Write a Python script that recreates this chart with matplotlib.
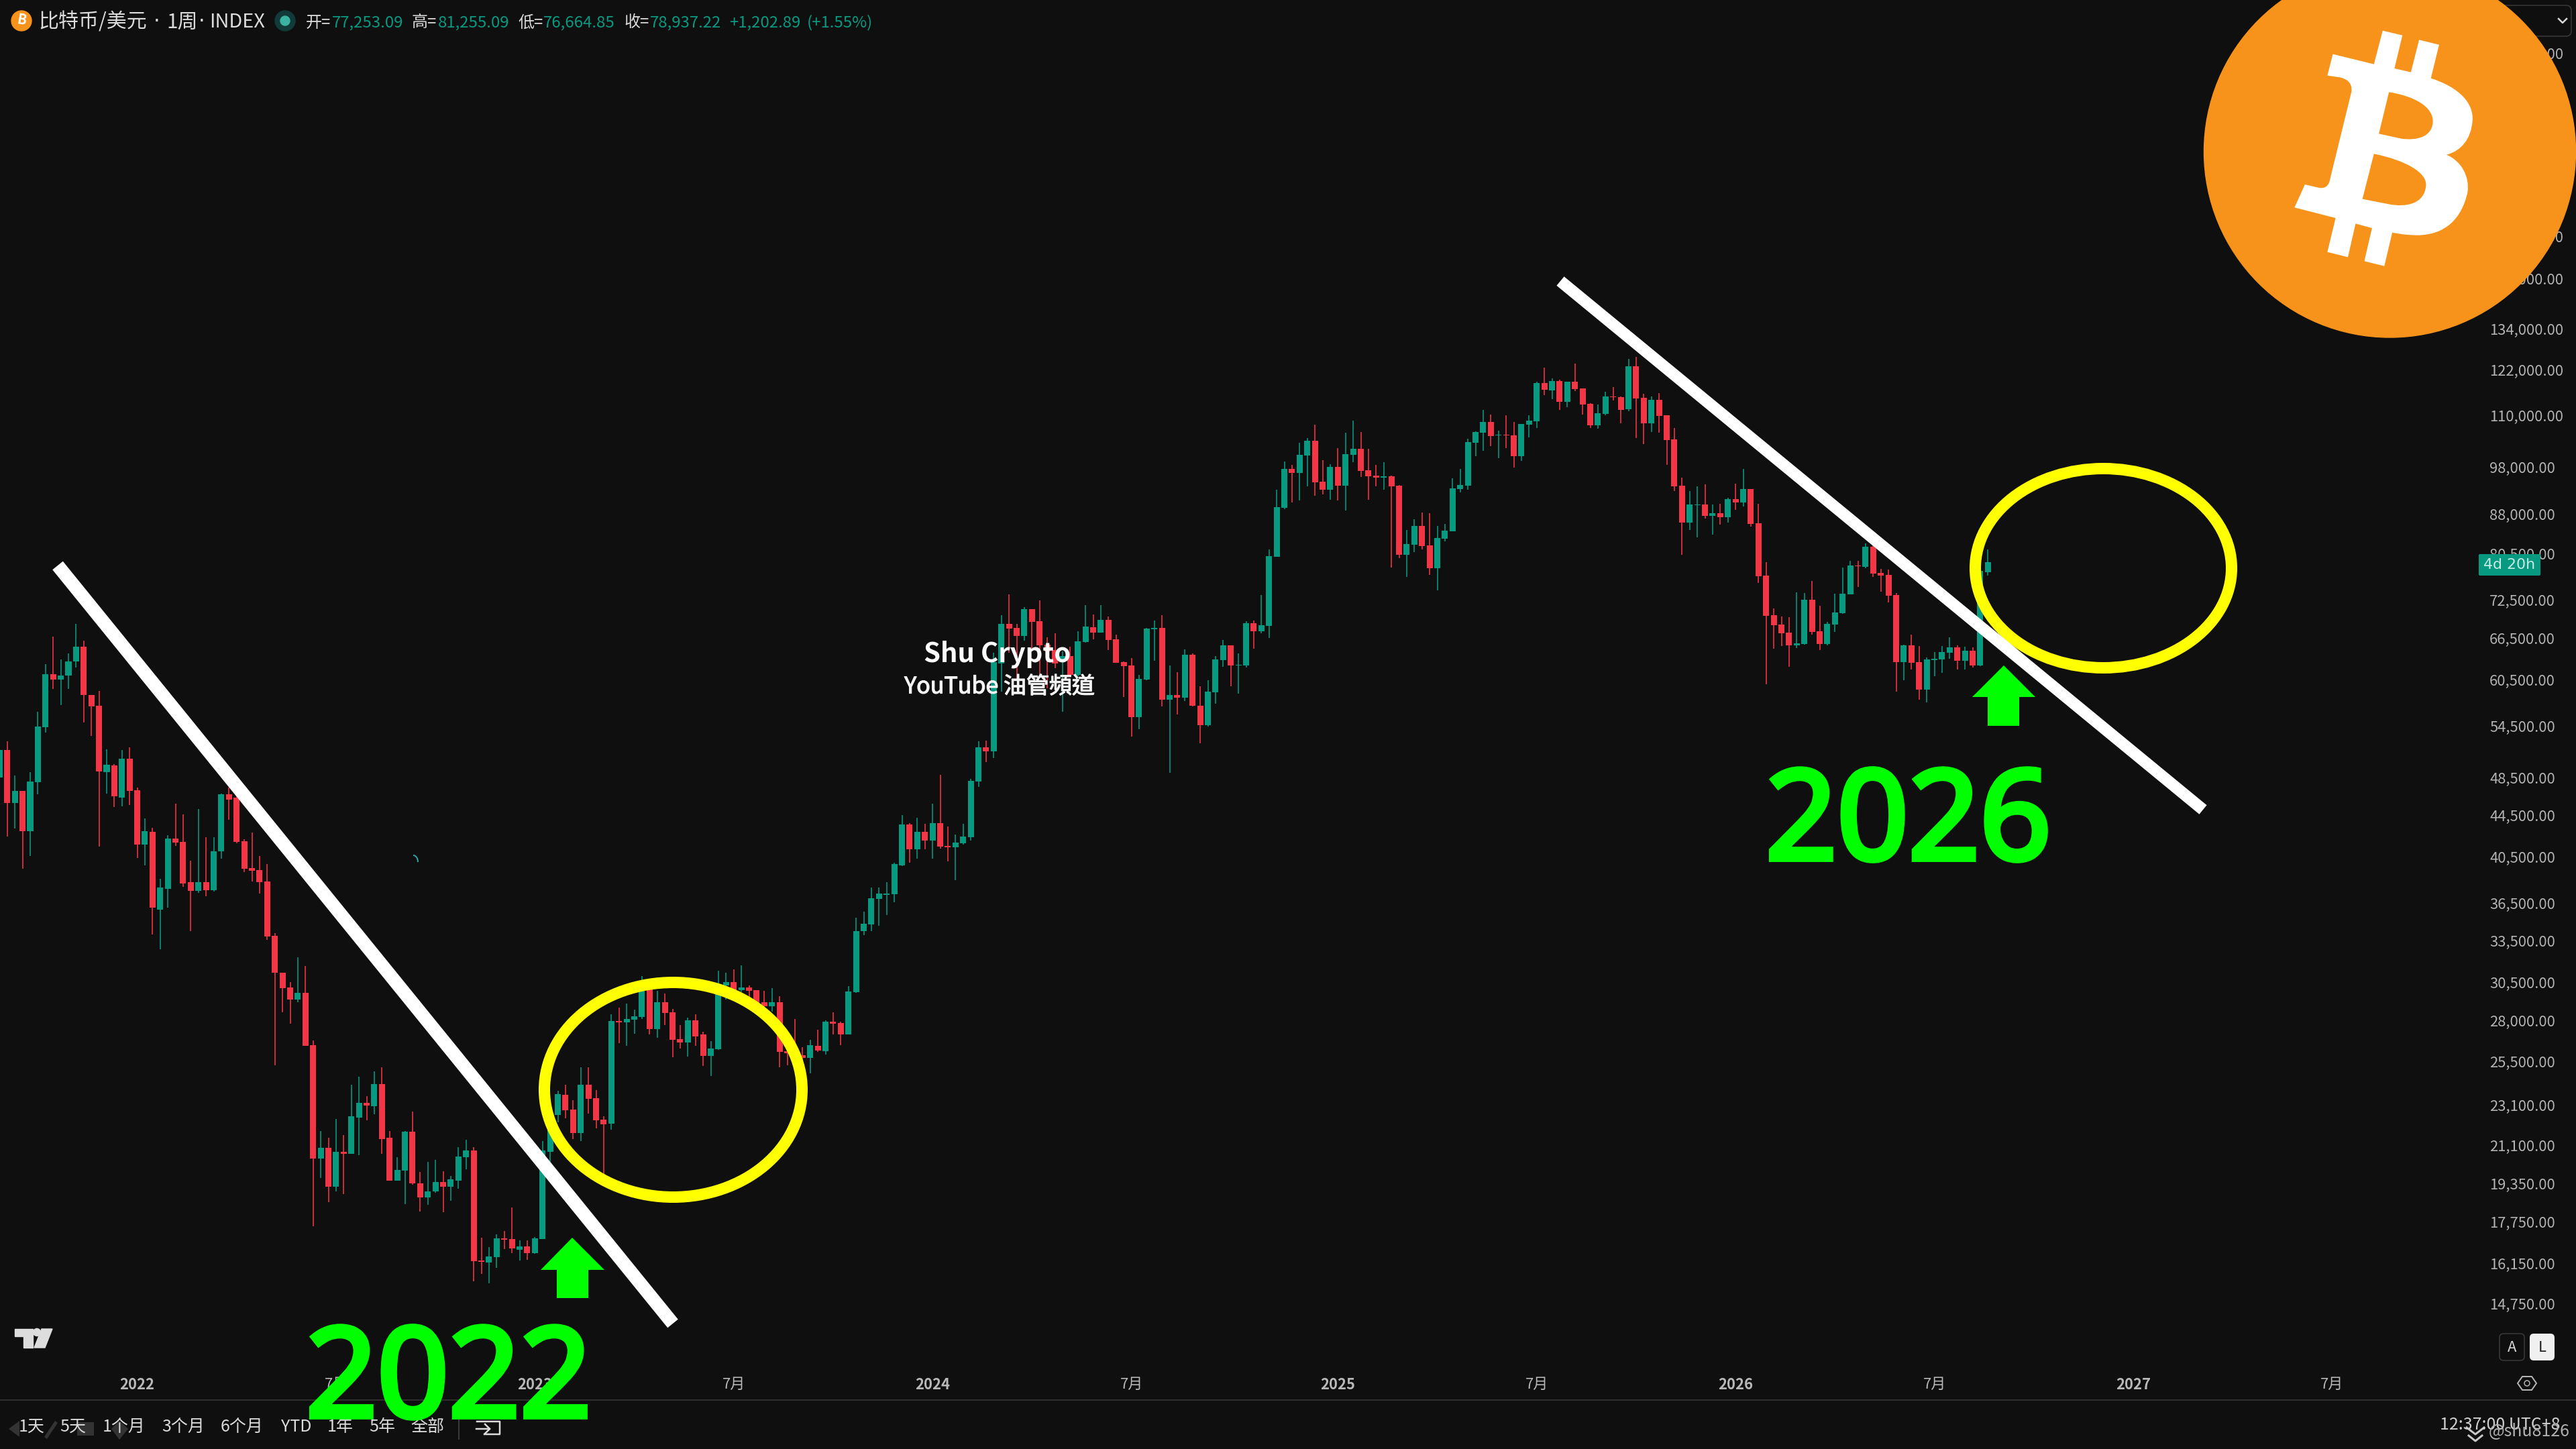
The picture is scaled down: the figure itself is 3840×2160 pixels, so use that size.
import numpy as np
import matplotlib
matplotlib.use('Agg')
import matplotlib.pyplot as plt
import matplotlib.patheffects as pe
from matplotlib.patches import Ellipse, Circle, Polygon, FancyBboxPatch, PathPatch, Arc
from matplotlib.path import Path
from matplotlib.ticker import NullLocator

plt.rcParams['font.family'] = ['Noto Sans CJK SC', 'DejaVu Sans']
plt.rcParams['axes.unicode_minus'] = False

# weekly candles
opens = [
    48520, 51620, 45820, 47060, 42970, 48010, 54400, 61280, 60570, 61090,
    63060, 65250, 58470, 57060, 49100, 49850, 46360, 50640, 47160, 41680,
    42880, 35980, 37720, 42250, 41950, 38270, 37550, 38270, 37590, 41030,
    46710, 46320, 41990, 39510, 39340, 38350, 33900, 31210, 30180, 29330,
    29800, 26460, 20470, 20970, 19220, 20790, 20700, 22470, 23220, 23050,
    24230, 21470, 19480, 19930, 21750, 19370, 18750, 19000, 19410, 19200,
    19490, 20550, 20860, 16260, 16190, 16370, 17080, 17060, 16660, 16790,
    16540, 17060, 20800, 22590, 23650, 22880, 21690, 24190, 23480, 22370,
    22170, 27960, 27860, 28050, 28220, 30250, 27450, 29160, 28500, 26830,
    26640, 28000, 27100, 25830, 26230, 30320, 30550, 30000, 30150, 29980,
    29160, 28900, 29160, 26120, 26040, 25880, 25700, 26430, 26120, 27910,
    27830, 27100, 29840, 34240, 34810, 36860, 37200, 37260, 39790, 43630,
    41210, 42870, 42080, 43770, 41560, 41400, 41820, 42400, 48110, 51980,
    51500, 62840, 68690, 68050, 66850, 71010, 69120, 65520, 64710, 63090,
    63870, 61210, 65930, 68160, 67370, 69330, 66340, 62990, 62560, 55640,
    60560, 67900, 68050, 57880, 58470, 58150, 64070, 57090, 54630, 58840,
    63280, 65420, 62560, 62560, 68800, 67580, 68380, 79920, 89320, 97540,
    96650, 100550, 103980, 94770, 93050, 97970, 93900, 100700, 102090, 97240,
    96080, 95650, 95930, 93900, 80280, 82150, 85710, 82020, 77890, 83280,
    84680, 93190, 93900, 103490, 105880, 108490, 105240, 105400, 105240, 100400,
    107830, 108630, 118480, 116530, 119020, 113570, 118830, 117050, 113030, 107660,
    110480, 114940, 114770, 111670, 123140, 114600, 108170, 114060, 110150, 104290,
    93900, 86400, 89860, 89990, 87710, 88230, 87450, 91090, 90410, 93190,
    86230, 76620, 70060, 68580, 67350, 65430, 65640, 72580, 67570, 65640,
    68580, 70390, 73460, 78400, 78140, 81820, 77110, 76740, 73340, 63020,
    65430, 63020, 59200, 63290, 63390, 64340, 65120, 63190, 64650, 62520,
    77253.09,
]
highs = [
    52620, 52670, 48730, 47060, 49100, 56330, 62700, 66730, 63400, 64290,
    68680, 66150, 58470, 59010, 51730, 50010, 51620, 51950, 47400, 44240,
    43290, 38600, 42570, 45730, 44660, 40190, 45180, 42380, 42380, 46810,
    47450, 46470, 42210, 42840, 40620, 39900, 34120, 31210, 30540, 32310,
    31640, 26750, 21800, 21470, 22400, 21580, 24210, 24630, 23600, 24950,
    25160, 21800, 20550, 21800, 22760, 19860, 20330, 20420, 19900, 19680,
    21020, 21380, 21020, 17120, 16750, 17260, 17390, 18320, 17010, 17010,
    17150, 21300, 22800, 23880, 24190, 23370, 25170, 25170, 23900, 22530,
    28390, 28810, 29070, 28690, 30950, 30430, 29930, 29750, 28720, 27710,
    28170, 28390, 27280, 26720, 31320, 31190, 31410, 31700, 30300, 29980,
    29950, 30100, 29590, 27000, 28080, 26350, 26800, 27420, 28010, 28500,
    27910, 30250, 35300, 35830, 37820, 37820, 38270, 40010, 44590, 43730,
    44280, 43700, 45740, 48810, 43430, 42660, 43700, 48370, 52670, 52750,
    64320, 70060, 73460, 68690, 71400, 71010, 72450, 66650, 67270, 64560,
    65280, 67530, 71680, 70190, 71680, 69810, 67020, 63090, 63570, 61210,
    68110, 69230, 70060, 62560, 61590, 64860, 64270, 59660, 60510, 63870,
    66240, 65420, 64270, 69070, 69230, 73340, 81260, 93050, 99180, 98430,
    103490, 104600, 107770, 99490, 98560, 102250, 105880, 108800, 106040, 102090,
    98430, 99040, 96080, 94110, 84950, 87120, 88370, 88230, 85710, 86100,
    95490, 97540, 104440, 106200, 111500, 110320, 106360, 110150, 108490, 107990,
    110150, 118830, 122700, 119740, 119380, 118830, 123840, 117050, 113200, 112860,
    116160, 117360, 114940, 125150, 125720, 115640, 114940, 115820, 110150, 107010,
    95650, 92770, 93760, 94200, 89990, 90130, 91370, 94340, 97540, 93190,
    90130, 78980, 71150, 69830, 69760, 73770, 73650, 75720, 71570, 69020,
    73540, 78060, 79240, 79240, 82430, 82080, 77810, 77680, 73650, 65530,
    67030, 65340, 63690, 64440, 65340, 66640, 65430, 65230, 65120, 77650,
    81255.09,
]
lows = [
    46960, 42430, 43210, 39470, 40620, 46710, 53690, 59260, 57180, 59260,
    62280, 54970, 53300, 41500, 46810, 45380, 45470, 45570, 40450, 39770,
    34010, 32900, 36130, 41550, 37870, 34240, 37350, 37070, 37470, 40360,
    44100, 41790, 39140, 38350, 37310, 33620, 25290, 28530, 27800, 29170,
    26440, 17560, 19600, 18560, 19000, 18880, 20700, 20640, 22330, 22620,
    20700, 19480, 19480, 18480, 19290, 18150, 18450, 18940, 18130, 18620,
    19120, 19990, 15510, 15780, 15450, 15990, 16680, 16520, 16260, 16290,
    16500, 17060, 20330, 22240, 22430, 21390, 21300, 22670, 21920, 19750,
    21860, 26590, 26430, 27160, 28100, 27100, 26920, 27710, 25750, 26270,
    25800, 26430, 25240, 24670, 26200, 29370, 29800, 29860, 29530, 29000,
    28640, 28540, 25170, 25290, 25720, 25640, 24820, 26070, 25920, 27130,
    26480, 27100, 29800, 33940, 34280, 34690, 35540, 36600, 39730, 40010,
    40380, 41210, 40380, 41330, 40130, 38430, 41690, 42080, 47520, 50240,
    50710, 58930, 64320, 60690, 66130, 64810, 60930, 59390, 62160, 56300,
    61210, 61030, 65830, 66340, 67370, 64760, 62940, 58240, 53240, 54110,
    60460, 63180, 57000, 49050, 56000, 57700, 57000, 52430, 54460, 57360,
    62360, 59660, 58650, 62260, 64960, 67270, 66540, 79920, 89050, 90410,
    90820, 93760, 91800, 92080, 90960, 90820, 88770, 99040, 95800, 90960,
    93760, 93050, 78000, 79680, 76370, 80780, 81280, 76720, 74080, 82780,
    84680, 92490, 93050, 100400, 101630, 102710, 99940, 102250, 97830, 99340,
    104760, 107010, 115300, 114220, 111510, 112200, 116330, 110320, 107010, 106860,
    110150, 113910, 108170, 111180, 104600, 103170, 106040, 105880, 98430, 92770,
    80280, 84950, 83540, 87190, 84040, 85980, 86400, 88890, 89590, 85590,
    75330, 59930, 64890, 65340, 62350, 65010, 65530, 67030, 64780, 65430,
    67460, 70280, 73460, 74680, 77930, 76420, 73890, 72110, 58950, 60480,
    61950, 57900, 57530, 61020, 61480, 63490, 61950, 61950, 62250, 62450,
    76664.85,
]
closes = [
    51620, 45820, 47060, 42970, 48060, 54440, 61280, 60570, 61090, 63060,
    65250, 58470, 57000, 49200, 49950, 46510, 50640, 47060, 41680, 42970,
    36130, 37830, 42250, 41900, 38190, 37550, 38270, 37590, 41080, 46710,
    46170, 41950, 39470, 39300, 38270, 33870, 31210, 30120, 29330, 29800,
    26440, 20470, 20970, 19220, 20790, 20700, 22520, 23220, 23100, 24230,
    21400, 19480, 19970, 21750, 19350, 18750, 19020, 19410, 19200, 19530,
    20580, 20860, 16240, 16210, 16400, 17080, 17040, 16700, 16790, 16540,
    17080, 20840, 22590, 23690, 22840, 21690, 24190, 23440, 22330, 22130,
    27960, 27860, 28080, 28250, 30070, 27450, 29160, 28470, 26800, 26640,
    28000, 27000, 25830, 26270, 29890, 30550, 29890, 30150, 29950, 29080,
    28910, 29160, 26070, 26000, 25880, 25700, 26480, 26150, 27910, 27780,
    27100, 29890, 34280, 34860, 36900, 37280, 37320, 39860, 43630, 41210,
    42930, 42080, 43770, 41490, 41400, 41880, 42460, 48180, 51980, 51500,
    62990, 68690, 67950, 66850, 71010, 69010, 65420, 64560, 62840, 63820,
    61210, 66030, 68270, 67370, 69330, 66240, 62940, 62460, 55640, 60650,
    67950, 68050, 57880, 58470, 58150, 64070, 57090, 54630, 58930, 63380,
    65420, 62560, 62650, 68800, 67580, 68480, 80080, 89450, 97540, 96650,
    100700, 103980, 94620, 93050, 97970, 93900, 100850, 102090, 97100, 95930,
    95650, 95930, 93760, 80280, 82280, 85710, 81900, 77890, 83410, 84810,
    93330, 94040, 103640, 106040, 108490, 105080, 105400, 105240, 100400, 107990,
    108800, 118480, 116700, 119020, 113570, 118830, 116870, 112860, 107660, 110650,
    114940, 114770, 111500, 123140, 114430, 108170, 114060, 109990, 104130, 93760,
    86400, 89990, 89990, 87710, 88230, 87450, 91090, 90410, 93190, 86100,
    76500, 69950, 68470, 67240, 65430, 65710, 72580, 67460, 65640, 68690,
    70500, 73540, 78400, 78270, 81820, 76990, 76660, 73230, 63020, 65430,
    62920, 59200, 63390, 63490, 64440, 65120, 63190, 64650, 62520, 77450,
    78937.22,
]

price_ticks = [250000, 165000, 150000, 134000, 122000, 110000, 98000, 88000, 80500, 72500,
               66500, 60500, 54500, 48500, 44500, 40500, 36500, 33500, 30500, 28000,
               25500, 23100, 21100, 19350, 17750, 16150, 14750]
week_ticks = [18, 44, 70, 96, 122, 148, 175, 201, 227, 253, 279, 305]
week_labels = ['2022', '7月', '2023', '7月', '2024', '7月', '2025', '7月', '2026', '7月', '2027', '7月']
range_buttons = ['1天', '5天', '1个月', '3个月', '6个月', 'YTD', '1年', '5年', '全部']
range_button_x = [28, 89, 153, 241, 329, 419, 488, 550, 612]

BG = '#0f0f0f'
UP = '#089981'
DOWN = '#f23645'
LIME = '#00ff00'
PX = 0.72  # one pixel in points at dpi 100

fig = plt.figure(figsize=(38.4, 21.6), dpi=100, facecolor=BG)
ax = fig.add_axes([0, 0, 1, 1], facecolor=BG)

idx = np.arange(len(opens))
o, h, l, c = map(np.array, (opens, highs, lows, closes))
colors = np.where(c >= o, UP, DOWN)

ax.set_yscale('log')
ax.vlines(idx, l, h, colors=colors, linewidth=1.6 * PX, zorder=2)
ax.bar(idx, np.abs(c - o), bottom=np.minimum(o, c), width=0.79, color=colors, linewidth=0, zorder=3)

ax.set_xlim(0.0526, 336.9)
ax.set_ylim(10610, 282000)
for s in ax.spines.values():
    s.set_visible(False)

ax.yaxis.tick_right()
ax.set_yticks(price_ticks)
ax.set_yticklabels([f'{p:,.2f}' for p in price_ticks])
ax.yaxis.set_minor_locator(NullLocator())
ax.tick_params(axis='y', length=0, pad=-129 * PX, labelsize=22 * PX, labelcolor='#b4b4b4')

ax.set_xticks(week_ticks)
ax.set_xticklabels(week_labels)
ax.tick_params(axis='x', length=0, pad=-107 * PX, labelsize=22 * PX, labelcolor='#b8b8b8')
for lab in ax.get_xticklabels():
    if lab.get_text().startswith('20'):
        lab.set_fontweight('bold')

# everything drawn on top of the chart, in screen pixels
ov = fig.add_axes([0, 0, 1, 1])
ov.set_xlim(0, 3840)
ov.set_ylim(2160, 0)
ov.axis('off')
ov.patch.set_alpha(0)


def ui(x, y, s, size=24, color='#dbdbdb', ha='left', va='center', **kw):
    return ov.text(x, y, s, fontsize=size * PX, color=color, ha=ha, va=va, **kw)


# legend row
ov.add_patch(Circle((32, 31), 15, color='#f7931a', zorder=5))
ui(32, 30, 'B', size=20, color='white', ha='center', weight='bold', rotation=-10, zorder=6)
ui(57, 33, '比特币/美元', size=30)
ui(234, 33, '·', size=30, ha='center', family=['DejaVu Sans'])
ui(248, 33, '1周', size=30)
ui(301, 33, '·', size=30, ha='center', family=['DejaVu Sans'])
ui(312, 33, 'INDEX', size=29)
ov.add_patch(Circle((425, 31), 15, color='#113a38', zorder=5))
ov.add_patch(Circle((425, 31), 7, color='#3bb3a0', zorder=6))
for x, s in [(456, '开='), (614, '高='), (772, '低='), (930, '收=')]:
    ui(x, 34, s, size=24)
for x, s in [(495, '77,253.09'), (653, '81,255.09'), (810, '76,664.85'), (969, '78,937.22'),
             (1087, '+1,202.89'), (1203, '(+1.55%)')]:
    ui(x, 34, s, size=24, color=UP)

# bottom strip
ov.plot([0, 3840], [2087, 2087], color='#2e2e2e', lw=2 * PX)
for pts in [[(13, 2130), (29, 2118), (29, 2142)], [(66, 2142), (82, 2118), (86, 2121), (70, 2145)],
            [(115, 2120), (140, 2120), (140, 2140), (115, 2140)], [(166, 2130), (178, 2118), (191, 2130), (178, 2146)]]:
    ov.add_patch(Polygon(pts, color='#333333', lw=0))
for x, s in zip(range_button_x, range_buttons):
    ui(x, 2127, s, size=25, zorder=4)
ov.plot([684, 684], [2115, 2145], color='#3a3a3a', lw=2 * PX)
ov.plot([711, 745, 745, 722], [2119, 2119, 2138, 2138], color='#dbdbdb', lw=2.5 * PX)
ov.plot([710, 730], [2130, 2130], color='#dbdbdb', lw=2.5 * PX)
ov.plot([723, 730, 723], [2123, 2130, 2137], color='#dbdbdb', lw=2.5 * PX)

# tradingview mark
ov.add_patch(Polygon([(22, 1981), (49, 1981), (49, 2009), (35, 2009), (35, 1992), (22, 1992)], color='#dddddd'))
ov.add_patch(Circle((55, 1986), 5.5, color='#dddddd'))
ov.add_patch(Polygon([(62, 1981), (78, 1981), (67, 2009), (51, 2009)], color='#dddddd'))

# small stray arc
ov.add_patch(Arc((616, 1285), 14, 20, theta1=-90, theta2=0, color='#2aa7a0', lw=2 * PX))

# A / L buttons, clock
ov.add_patch(FancyBboxPatch((3730, 1992), 29, 32, boxstyle='round,pad=4,rounding_size=6',
                            fc='none', ec='#3a3a3a', lw=1.5 * PX))
ov.add_patch(FancyBboxPatch((3775, 1992), 29, 32, boxstyle='round,pad=4,rounding_size=6',
                            fc='#f0f0f0', ec='none'))
ui(3745, 2009, 'A', size=22, color='#d8d8d8', ha='center')
ui(3790, 2009, 'L', size=22, color='#1a1a1a', ha='center')
ov.add_patch(Polygon([(3753, 2062), (3760, 2052), (3774, 2052), (3781, 2062), (3774, 2072), (3760, 2072)],
                     fc='none', ec='#b4b4b4', lw=2 * PX))
ov.add_patch(Circle((3767, 2062), 4, fc='none', ec='#b4b4b4', lw=1.5 * PX))
ui(3637, 2124, '12:37:00 UTC+8', size=25, color='#d0d0d0')
ui(3710, 2134, '@shu8126', size=25, color='#b0b0b0')
ov.plot([3677, 3690, 3703], [2128, 2138, 2128], color='#c8c8c8', lw=3 * PX)
ov.plot([3680, 3690, 3700], [2140, 2148, 2140], color='#c8c8c8', lw=3 * PX)

# watermark
ui(1487, 975, 'Shu Crypto', size=40, color='white', ha='center', weight='bold',
   family=['Noto Sans CJK TC', 'DejaVu Sans'], zorder=8)
ui(1490, 1024, 'YouTube 油管頻道', size=34, color='#f4f4f4', ha='center',
   family=['Noto Sans CJK TC', 'DejaVu Sans'], zorder=8,
   path_effects=[pe.withStroke(linewidth=1.2 * PX, foreground='#f4f4f4')])

# yellow rings, white trendlines
ov.add_patch(Ellipse((1003.5, 1624.5), 384, 320, fc='none', ec='#ffff00', lw=17 * PX, zorder=9))
ov.add_patch(Ellipse((3135.5, 847), 382, 297, fc='none', ec='#ffff00', lw=17 * PX, zorder=9))
ov.plot([86, 1003], [843, 1973], color='white', lw=20 * PX, solid_capstyle='butt', zorder=10)
ov.plot([2326, 3284], [419, 1207], color='white', lw=17.5 * PX, solid_capstyle='butt', zorder=10)

# green arrows and years
ov.add_patch(Polygon([(853, 1845), (901, 1893), (877, 1893), (877, 1935), (830, 1935), (830, 1893), (806, 1893)],
                     color=LIME, lw=0, zorder=11))
ov.add_patch(Polygon([(2987, 992), (3034, 1039), (3010, 1039), (3010, 1082), (2963, 1082), (2963, 1039), (2940, 1039)],
                     color=LIME, lw=0, zorder=11))
year_stroke = [pe.withStroke(linewidth=8 * PX, foreground=LIME, joinstyle='miter')]
ov.text(456, 2112, '2022', fontsize=186 * PX, color=LIME, family='Noto Sans',
        ha='left', va='baseline', zorder=11, path_effects=year_stroke)
ov.text(2632, 1281, '2026', fontsize=186 * PX, color=LIME, family='Noto Sans',
        ha='left', va='baseline', zorder=11, path_effects=year_stroke)

# interval box hiding under the logo, then the countdown tag
ov.add_patch(FancyBboxPatch((3606, 14), 221, 34, boxstyle='round,pad=6,rounding_size=8',
                            fc='none', ec='#3a3a3a', lw=1.5 * PX, zorder=4))
ov.plot([3814, 3820, 3826], [28, 34, 28], color='#d8d8d8', lw=2.5 * PX, zorder=4)
ov.add_patch(FancyBboxPatch((3697, 828), 88, 28, boxstyle='round,pad=2,rounding_size=2',
                            fc=UP, ec='none', zorder=6))
ui(3741, 842, '4d 20h', size=22, color='#c9ece5', ha='center', zorder=7,
   family=['DejaVu Sans'])

# bitcoin logo
ov.add_patch(Circle((3562.5, 226), 277, color='#f7931a', zorder=12))
M, L, C4 = Path.MOVETO, Path.LINETO, Path.CURVE4


def logo_patch(segments, color):
    verts, codes = [], []
    for code, pts in segments:
        for p in pts:
            verts.append((3200 + p[0] / 2.45, p[1] / 3))
            codes.append(code)
    verts.append(verts[0])
    codes.append(Path.CLOSEPOLY)
    return PathPatch(Path(verts, codes), fc=color, ec='none', zorder=13)


outer = [
    (M, [(680, 242)]),
    (L, [(830, 287), (862, 137), (934, 158), (905, 306), (965, 323), (995, 178), (1068, 200), (1038, 350)]),
    (C4, [(1140, 390), (1195, 460), (1190, 540), (1185, 620), (1150, 675), (1095, 692),
          (1150, 720), (1180, 790), (1172, 860), (1150, 980), (1090, 1050), (990, 1052),
          (960, 1052), (930, 1048), (897, 1040)]),
    (L, [(868, 1190), (795, 1168), (823, 1020), (763, 1000), (735, 1150), (660, 1127),
         (690, 975), (540, 928), (578, 825), (630, 840)]),
    (C4, [(655, 845), (665, 825), (668, 810)]),
    (L, [(748, 410)]),
    (C4, [(752, 370), (730, 350), (700, 345)]),
    (L, [(660, 338)]),
]
upper_hole = [
    (M, [(885, 412)]),
    (C4, [(980, 430), (1050, 480), (1045, 550), (1040, 610), (990, 630), (930, 620)]),
    (L, [(848, 598)]),
]
lower_hole = [
    (M, [(830, 688)]),
    (C4, [(940, 715), (1025, 770), (1020, 830), (1015, 910), (950, 930), (880, 912)]),
    (L, [(788, 890)]),
]
ov.add_patch(logo_patch(outer, 'white'))
ov.add_patch(logo_patch(upper_hole, '#f7931a'))
ov.add_patch(logo_patch(lower_hole, '#f7931a'))

fig.savefig('out.png', dpi=100, facecolor=BG)
